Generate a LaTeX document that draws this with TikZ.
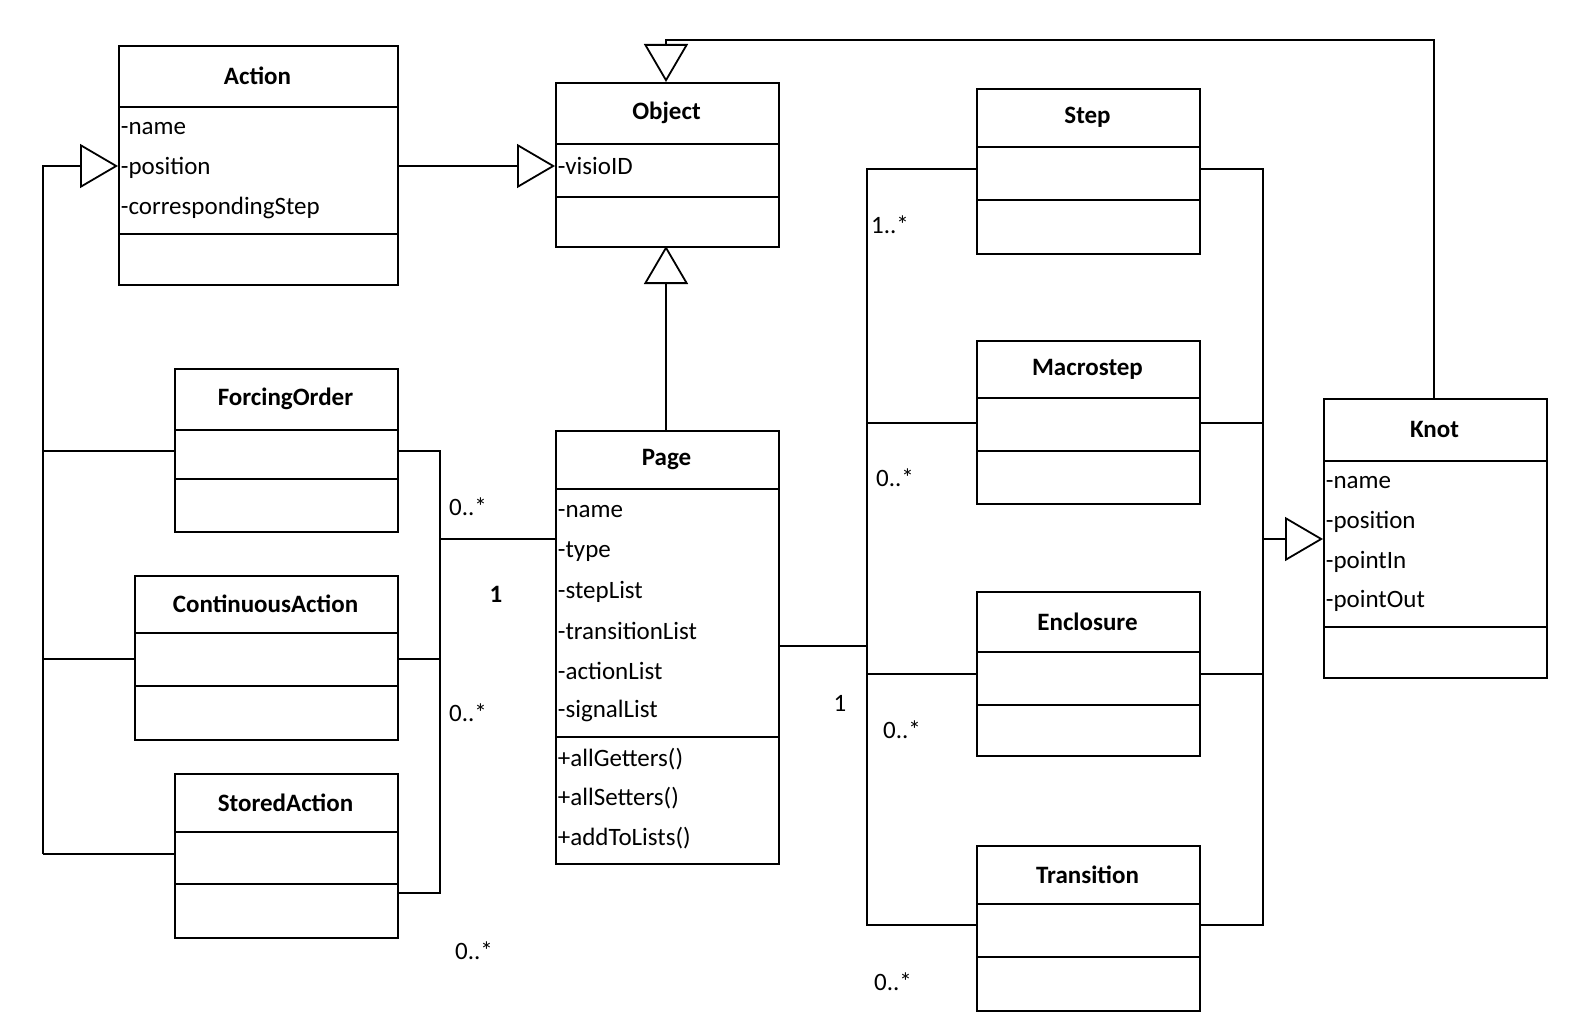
\documentclass[tikz,border=0pt]{standalone}
\usepackage{fontspec}
\setmainfont{Carlito}
\usetikzlibrary{arrows.meta}
\begin{document}
\begin{tikzpicture}[x=1pt,y=-1pt,line width=1.8pt,
  box/.style={draw,rectangle,anchor=north west,inner sep=0pt},
  ttl/.style={font=\fontsize{25}{28}\selectfont\bfseries},
  att/.style={anchor=west,inner sep=0pt,font=\fontsize{25}{28}\selectfont},
  lbl/.style={inner sep=0pt,font=\fontsize{25}{28}\selectfont},
  inh/.style={-{Triangle[open,length=38pt,width=44pt]}}]
\useasboundingbox (0,0) rectangle (1584,1022);
\newcommand\umlbox[8]{% name,title,x1,y1,x2,y2,d1,d2
  \node[box,minimum width=#5-#3,minimum height=#6-#4] (#1) at (#3,#4) {};
  \draw (#3,#7) -- (#5,#7) (#3,#8) -- (#5,#8);
  \node[ttl] (#1t) at ({(#3+#5)/2},{(#4+#7)/2}) {#2};}
\umlbox{act}{Action}{118}{45}{397}{284}{107}{234}
\umlbox{obj}{Object}{555}{82}{778}{246}{144}{197}
\umlbox{step}{Step}{976}{88}{1199}{253}{147}{200}
\umlbox{mac}{Macrostep}{976}{340}{1199}{503}{398}{451}
\umlbox{enc}{Enclosure}{976}{591}{1199}{755}{652}{705}
\umlbox{tra}{Transition}{976}{845}{1199}{1010}{904}{957}
\umlbox{knot}{Knot}{1323}{398}{1546}{677}{461}{627}
\umlbox{fo}{ForcingOrder}{174}{368}{397}{531}{430}{479}
\umlbox{ca}{ContinuousAction}{134}{575}{397}{739}{633}{686}
\umlbox{sa}{StoredAction}{174}{773}{397}{937}{832}{884}
\umlbox{page}{Page}{555}{430}{778}{863}{489}{737}
% attributes
\node[att] (a1) at (120,129) {-name};
\node[att] (a2) at (120,168) {-position};
\node[att] (a3) at (120,208) {-correspondingStep};
\node[att] (o1) at (557,166) {-visioID};
\node[att] (p1) at (557,512) {-name};
\node[att] (p2) at (557,552) {-type};
\node[att] (p3) at (557,592) {-stepList};
\node[att] (p4) at (557,631) {-transitionList};
\node[att] (p5) at (557,671) {-actionList};
\node[att] (p6) at (557,711) {-signalList};
\node[att] (p7) at (557,759) {+allGetters()};
\node[att] (p8) at (557,798) {+allSetters()};
\node[att] (p9) at (557,838) {+addToLists()};
\node[att] (k1) at (1325,483) {-name};
\node[att] (k2) at (1325,522) {-position};
\node[att] (k3) at (1325,562) {-pointIn};
\node[att] (k4) at (1325,601) {-pointOut};
% coordinates
\coordinate (actL) at (118,166);
\coordinate (actR) at (397,166);
\coordinate (objL) at (555,166);
\coordinate (objB) at (666,246);
\coordinate (objT) at (666,82);
\coordinate (pageT) at (666,430);
\coordinate (knotT) at (1434,398);
\coordinate (lb0) at (43,166);
\coordinate (rb1) at (440,451);
\coordinate (rb2) at (440,893);
\coordinate (rbm) at (440,539);
\coordinate (pageL) at (555,539);
\coordinate (pageR) at (778,646);
\coordinate (sb) at (867,646);
\coordinate (knotL) at (1323,539);
\coordinate (kb) at (1263,539);
% inheritance
\draw[inh] (actR) -- (objL);
\draw[inh] (pageT) -- (objB);
\draw[inh] (knotT) |- (690,40) -- (666,40) -- (objT);
\draw[inh] (43,854) -- (lb0) -- (actL);
\draw (174,451) -- (43,451) (134,659) -- (43,659) (174,854) -- (43,854);
\draw[inh] (kb) -- (knotL);
% associations
\draw (397,451) -| (rb1) -- (rb2) -- (397,893);
\draw (397,659) -- (440,659);
\draw (rbm) -- (pageL);
\draw (pageR) -- (sb);
\draw (976,169) -| (867,925) -- (976,925);
\draw (976,423) -- (867,423) (976,674) -- (867,674);
\draw (1199,169) -| (1263,925) -- (1199,925);
\draw (1199,423) -- (1263,423) (1199,674) -- (1263,674);
% multiplicities
\node[lbl] (m1) at (890,225) {1..*};
\node[lbl] (m2) at (895,478) {0..*};
\node[lbl] (m3) at (468,507) {0..*};
\node[lbl,font=\fontsize{25}{28}\selectfont\bfseries] (m4) at (496,594) {1};
\node[lbl] (m5) at (468,713) {0..*};
\node[lbl] (m6) at (840,703) {1};
\node[lbl] (m7) at (902,730) {0..*};
\node[lbl] (m8) at (474,951) {0..*};
\node[lbl] (m9) at (893,982) {0..*};
\end{tikzpicture}
\end{document}
